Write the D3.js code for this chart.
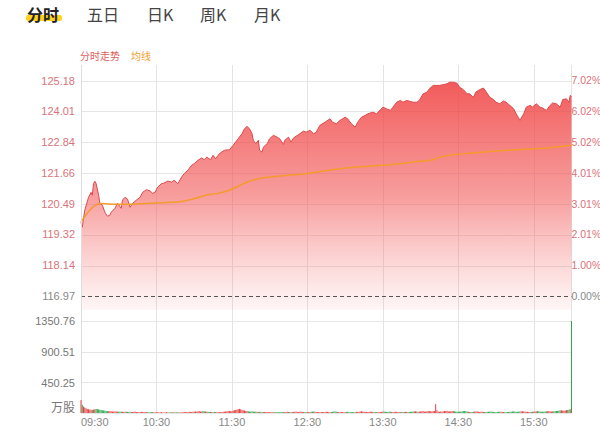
<!DOCTYPE html>
<html><head><meta charset="utf-8">
<script src="https://cdn.jsdelivr.net/npm/d3@7"></script>
<style>
html,body{margin:0;padding:0;background:#fff;}
svg{display:block;}
</style></head>
<body>
<svg id="c" width="600" height="441"></svg>
<script>
const tabs = ["分时","五日","日K","周K","月K"];
const legendNames = ["分时走势","均线"];
const timeLabels = ["09:30","10:30","11:30","12:30","13:30","14:30","15:30"];
const timeTickMin = [0,60,120,180,240,300,360];
const priceTicks = [116.97,118.14,119.32,120.49,121.66,122.84,124.01,125.18];
const pctTicks = ["0.00%","1.00%","2.01%","3.01%","4.01%","5.02%","6.02%","7.02%"];
const volTicks = [450.25,900.51,1350.76];
const volUnit = "万股";

// price line: minute offset from 09:30, price
const priceMin = [0,1,3,6,8,9,10,11,12,14,15,17,19,21,23,24,27,29,32,33,35,37,39,41,44,47,49,52,55,57,59,61,64,66,69,72,74,77,80,82,85,88,90,93,96,98,100,103,105,107,110,114,118,121,124,128,130,132,134,136,137,139,141,142,144,145,148,150,153,156,158,161,162,165,167,169,173,177,179,182,185,187,190,194,198,200,203,206,210,212,215,218,220,223,226,228,232,235,238,240,243,246,248,251,254,256,259,261,264,267,269,272,275,277,280,283,285,288,291,293,296,299,301,304,307,309,312,314,317,320,322,325,328,330,333,336,338,341,344,346,349,352,354,357,359,362,365,367,370,373,375,378,381,383,386,388,389,390];
const priceVal = [119.79,119.60,120.25,120.74,120.93,120.82,121.27,121.35,121.27,120.82,120.51,120.44,120.17,120.02,120.06,120.17,120.32,120.51,120.32,120.63,120.74,120.67,120.36,120.51,120.63,120.74,120.93,121.03,120.98,120.89,120.94,121.13,121.26,121.28,121.36,121.32,121.39,121.26,121.51,121.64,121.77,121.96,122.02,122.15,122.24,122.17,122.27,122.17,122.34,122.21,122.40,122.53,122.55,122.72,122.91,123.16,123.35,123.44,123.35,123.16,122.91,122.78,122.91,122.53,122.46,122.65,122.78,122.97,123.10,123.03,122.97,122.75,122.91,123.03,122.84,123.00,123.13,123.26,123.22,123.29,123.16,123.22,123.48,123.60,123.73,123.60,123.54,123.67,123.79,123.73,123.54,123.41,123.60,123.79,123.86,123.92,123.98,123.92,124.07,124.17,124.11,124.05,124.17,124.36,124.43,124.36,124.43,124.40,124.36,124.36,124.43,124.68,124.74,124.87,125.00,125.00,125.00,125.03,125.06,125.12,125.12,125.08,124.93,124.84,124.68,124.68,124.55,124.75,124.84,124.90,124.77,124.55,124.46,124.36,124.30,124.41,124.36,124.24,124.11,123.92,123.67,123.92,124.17,124.24,124.18,124.30,124.17,124.14,124.05,124.24,124.33,124.30,124.17,124.46,124.49,124.36,124.62,124.58];

// average line
const avgMin = [0,7,15,24,37,51,64,77,85,91,99,108,118,129,134,141,161,180,200,222,240,269,280,285,319,346,373,390];
const avgVal = [119.80,120.25,120.50,120.48,120.48,120.50,120.53,120.56,120.63,120.70,120.82,120.88,121.01,121.25,121.35,121.45,121.56,121.65,121.79,121.90,121.96,122.11,122.17,122.27,122.46,122.55,122.63,122.72];

// volume per minute (万股)
const volume = [
190,120,95,80,70,60,55,50,48,45,50,55,60,58,52,48,45,40,38,35,30,28,25,30,25,22,20,25,22,20,
20,18,22,18,15,20,18,16,15,18,15,14,16,20,15,14,12,15,18,14,12,15,14,12,10,14,12,15,12,10,
10,12,8,10,12,9,10,8,12,10,8,10,9,12,10,8,10,12,9,8,10,12,15,14,12,15,18,16,14,18,
20,22,18,25,28,22,20,30,25,22,18,20,15,18,15,12,15,14,12,15,14,12,15,18,20,22,25,28,30,25,
30,35,40,45,50,55,60,55,45,40,35,30,28,25,22,20,25,22,18,20,18,15,18,16,15,14,16,15,14,12,
12,14,12,10,12,14,12,10,12,14,15,12,14,16,18,15,14,12,14,16,18,20,16,14,18,20,16,15,14,12,
14,12,15,18,20,22,18,16,15,14,12,15,14,12,15,18,16,14,12,15,18,20,22,18,15,14,12,15,14,12,
14,16,18,15,14,12,15,14,12,15,18,16,22,25,20,18,16,15,14,18,20,18,16,15,14,12,15,14,15,18,
20,22,18,16,15,18,20,16,14,15,18,16,15,14,12,15,14,16,18,15,14,16,18,20,22,24,25,22,18,20,
22,25,28,22,20,25,30,28,25,22,28,30,130,40,20,18,22,20,24,28,30,32,25,22,26,28,30,25,22,20,
18,20,22,25,28,30,25,22,18,16,15,14,18,20,24,22,18,16,20,18,16,15,14,16,18,20,22,18,16,15,
14,16,18,20,18,16,15,14,12,15,16,18,20,22,24,20,18,16,20,22,24,26,22,20,18,16,15,14,16,18,
20,22,24,26,25,22,20,18,20,22,24,26,28,25,22,24,26,28,30,32,35,38,40,36,34,38,42,45,50,55,
1350.76];

const svg = d3.select("#c");
const numFont = "'Liberation Sans', Arial, 'Noto Sans CJK SC', sans-serif";
const narrowFont = "'Liberation Sans Narrow', 'Arial Narrow', 'Liberation Sans', sans-serif";
const cjkFont = "'Noto Sans CJK SC', 'Liberation Sans', sans-serif";

// layout
const L = 81, R = 571.5, priceTop = 65, priceBot = 310, volBot = 413;
const x = d3.scaleLinear().domain([0,390]).range([L,R]);
const yP = d3.scaleLinear().domain([priceTicks[0], priceTicks[priceTicks.length-1]]).range([296.3,80.7]);
const yV = d3.scaleLinear().domain([0, volTicks[volTicks.length-1]]).range([volBot,321]);

// tabs
const tabX = [27,87,147,200,254];
svg.append("rect").attr("x",26).attr("y",15).attr("width",36).attr("height",6).attr("rx",2).attr("fill","#ffd21f");
svg.selectAll("text.tab").data(tabs).enter().append("text")
  .attr("x",(d,i)=>tabX[i]).attr("y",21)
  .attr("font-family",cjkFont).attr("font-size",16)
  .attr("font-weight",(d,i)=>i===0?"bold":"normal")
  .attr("fill",(d,i)=>i===0?"#222":"#444")
  .text(d=>d);

// legend
svg.append("text").attr("x",80).attr("y",60).attr("font-family",cjkFont).attr("font-size",10).attr("fill","#e06060").text(legendNames[0]);
svg.append("text").attr("x",131).attr("y",60).attr("font-family",cjkFont).attr("font-size",10).attr("fill","#f0a030").text(legendNames[1]);

// gradient
const defs = svg.append("defs");
const grad = defs.append("linearGradient").attr("id","g").attr("gradientUnits","userSpaceOnUse")
  .attr("x1",0).attr("y1",80).attr("x2",0).attr("y2",priceBot);
grad.append("stop").attr("offset","0%").attr("stop-color","#f03c3c").attr("stop-opacity",0.85);
grad.append("stop").attr("offset","50%").attr("stop-color","#f25a5a").attr("stop-opacity",0.6);
grad.append("stop").attr("offset","100%").attr("stop-color","#f88080").attr("stop-opacity",0.07);

// grid
const grid = svg.append("g");
timeTickMin.slice(1).forEach(m=>{
  grid.append("line").attr("x1",Math.round(x(m))+0.5).attr("x2",Math.round(x(m))+0.5)
    .attr("y1",priceTop).attr("y2",volBot).attr("stroke","#e4e4e4");
});
grid.append("line").attr("x1",R).attr("x2",R).attr("y1",priceTop).attr("y2",volBot).attr("stroke","#e4e4e4");
priceTicks.slice(1).forEach(p=>{
  grid.append("line").attr("x1",L).attr("x2",R).attr("y1",Math.round(yP(p))+0.5).attr("y2",Math.round(yP(p))+0.5).attr("stroke","#e6e6e6");
});
volTicks.forEach(v=>{
  grid.append("line").attr("x1",L).attr("x2",R).attr("y1",Math.round(yV(v))+0.5).attr("y2",Math.round(yV(v))+0.5).attr("stroke","#e6e6e6");
});

// area + line
const pts = priceMin.map((m,i)=>[m,priceVal[i]]);
const area = d3.area().x(d=>x(d[0])).y0(priceBot).y1(d=>yP(d[1]));
svg.append("path").datum(pts).attr("d",area).attr("fill","url(#g)");
const line = d3.line().x(d=>x(d[0])).y(d=>yP(d[1]));
svg.append("path").datum(pts).attr("d",line).attr("fill","none").attr("stroke","#dd4a4a").attr("stroke-width",1);

// avg
const apts = avgMin.map((m,i)=>[m,avgVal[i]]);
svg.append("path").datum(apts).attr("d",d3.line().x(d=>x(d[0])).y(d=>yP(d[1])).curve(d3.curveMonotoneX))
  .attr("fill","none").attr("stroke","#f59a2c").attr("stroke-width",1.5);

// prev close dashed
svg.append("line").attr("x1",L).attr("x2",R).attr("y1",Math.round(yP(priceTicks[0]))+0.5).attr("y2",Math.round(yP(priceTicks[0]))+0.5)
  .attr("stroke","#555").attr("stroke-dasharray","4,3");

// axis lines
svg.append("line").attr("x1",L+0.5).attr("x2",L+0.5).attr("y1",priceTop).attr("y2",volBot).attr("stroke","#ddd");
svg.append("line").attr("x1",L).attr("x2",R).attr("y1",volBot+0.5).attr("y2",volBot+0.5).attr("stroke","#e6e6e6");

// volume bars
const interp = d3.scaleLinear().domain(priceMin).range(priceVal);
svg.append("g").selectAll("rect").data(volume).enter().append("rect")
  .attr("x",(d,i)=>x(i)-0.5).attr("width",1)
  .attr("y",d=>yV(d)).attr("height",d=>volBot-yV(d))
  .attr("fill",(d,i)=>{ if(i===0) return "#e84040"; return interp(i)>=interp(i-1)?"#e84040":"#2aa84a"; });

// price labels
svg.selectAll("text.pl").data(priceTicks).enter().append("text")
  .attr("x",75).attr("y",d=>yP(d)).attr("dy","0.35em").attr("text-anchor","end")
  .attr("font-family",numFont).attr("font-size",11)
  .attr("fill",(d,i)=>i===0?"#888":"#d9737a").text(d=>d.toFixed(2));
svg.selectAll("text.pr").data(pctTicks).enter().append("text")
  .attr("x",571.5).attr("y",(d,i)=>yP(priceTicks[i])).attr("dy","0.35em")
  .attr("font-family",narrowFont).attr("font-size",10.5)
  .attr("fill",(d,i)=>i===0?"#888":"#d9737a").text(d=>d);
// volume labels
svg.selectAll("text.vl").data(volTicks).enter().append("text")
  .attr("x",75).attr("y",d=>yV(d)).attr("dy","0.4em").attr("text-anchor","end")
  .attr("font-family",numFont).attr("font-size",11).attr("fill","#777").text(d=>d.toFixed(2));
svg.append("text").attr("x",75).attr("y",408).attr("dy","0.35em").attr("text-anchor","end")
  .attr("font-family",cjkFont).attr("font-size",12).attr("fill","#777").text(volUnit);
// time labels
svg.selectAll("text.tl").data(timeLabels).enter().append("text")
  .attr("x",(d,i)=>x(timeTickMin[i])).attr("y",426)
  .attr("text-anchor",(d,i)=>i===0?"start":"middle")
  .attr("font-family",numFont).attr("font-size",11).attr("fill","#888").text(d=>d);
</script>
</body></html>
